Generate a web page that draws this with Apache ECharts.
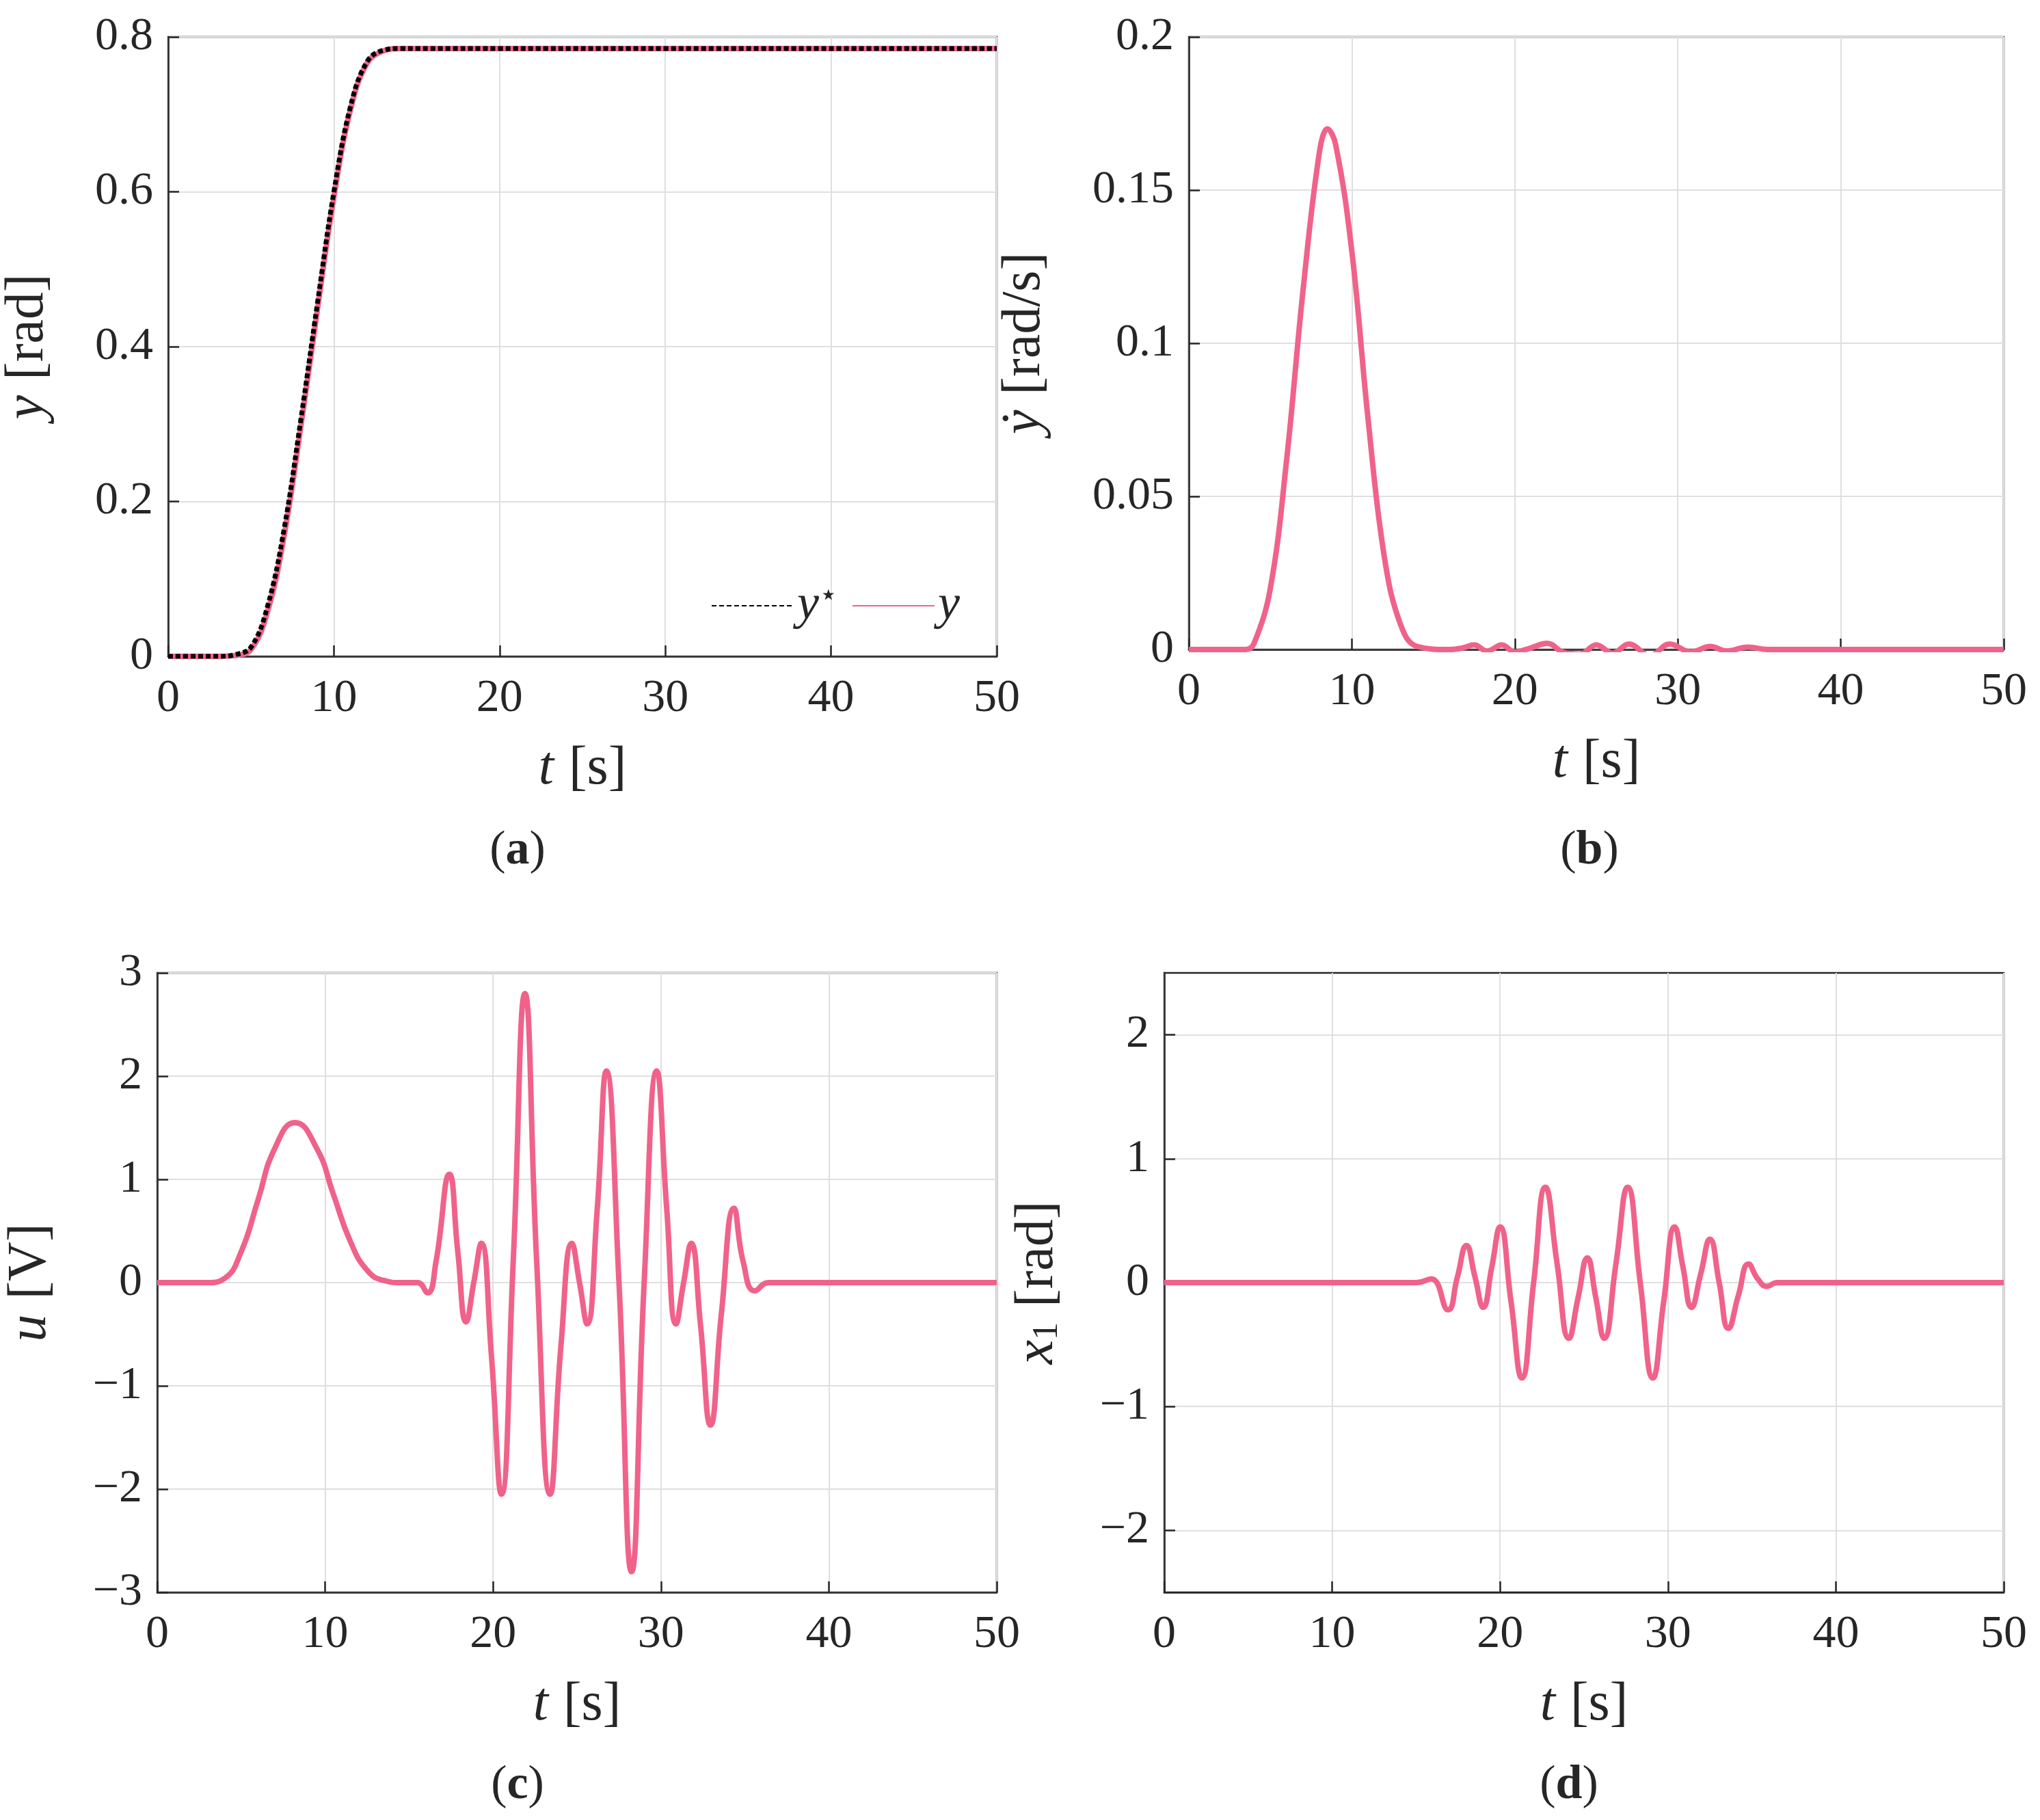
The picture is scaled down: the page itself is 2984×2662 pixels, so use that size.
<!DOCTYPE html>
<html>
<head>
<meta charset="utf-8">
<script src="https://cdn.jsdelivr.net/npm/echarts@6/dist/echarts.min.js"></script>
<style>
  html, body { margin: 0; padding: 0; background: #fff; }
  #main { width: 2984px; height: 2662px; }
</style>
</head>
<body>
<div id="main"></div>
<script>
// (a) position: reference y* and output y
var tPos = [0, 3, 4, 5, 6, 7, 8, 9, 10, 11, 12, 13, 14, 20, 30, 40, 50];
var yRef = [0, 0, 0.002, 0.012, 0.065, 0.165, 0.305, 0.455, 0.6, 0.71, 0.768, 0.783, 0.785, 0.785, 0.785, 0.785, 0.785];
var yOut = [0, 0, 0.001, 0.009, 0.058, 0.156, 0.296, 0.447, 0.593, 0.706, 0.766, 0.782, 0.785, 0.785, 0.785, 0.785, 0.785];

// (b) velocity
var tVel = [0, 3.5, 4, 5, 6, 7, 8, 8.5, 9, 10, 11, 12, 13, 14, 16, 16.8, 17.5, 18.3, 19.2, 20, 20.8, 22, 23, 24, 25, 26, 27, 28.3, 29.5, 30.8, 32, 33, 34.3, 35.5, 50];
var yVel = [0, 0, 0.002, 0.02, 0.062, 0.117, 0.162, 0.17, 0.165, 0.13, 0.075, 0.03, 0.008, 0.001, 0, 0.0005, 0.0015, -0.0005, 0.0015, -0.0008, 0.0002, 0.002, -0.001, -0.0015, 0.0015, -0.0012, 0.0018, -0.002, 0.0018, -0.0008, 0.001, -0.0005, 0.0008, 0, 0];

// (c) input voltage u
var tU = [0, 3, 4, 5, 6, 7, 8.2, 9.5, 10.5, 11.5, 12.5, 13.5, 14.5, 15.5, 16.1, 16.6, 17.4, 17.9, 18.4, 18.85, 19.3, 19.9, 20.5, 21.2, 21.9, 22.6, 23.4, 24.05, 24.7, 25.15, 25.6, 26.2, 26.75, 27.5, 28.25, 29.0, 29.75, 30.35, 30.9, 31.35, 31.8, 32.35, 32.95, 33.6, 34.35, 34.9, 35.6, 36.4, 50];
var uVal = [0, 0, 0.04, 0.3, 0.8, 1.3, 1.55, 1.3, 0.85, 0.4, 0.12, 0.02, 0, 0, -0.1, 0.2, 1.05, 0.3, -0.38, 0, 0.38, -0.7, -2.05, 0.2, 2.8, 0.2, -2.05, -0.6, 0.38, 0, -0.4, 0.7, 2.05, 0, -2.8, 0, 2.05, 0.7, -0.4, 0, 0.38, -0.4, -1.38, -0.3, 0.72, 0.2, -0.08, 0, 0];

// (d) state x1
var tX = [0, 15, 15.9, 16.9, 17.45, 18.0, 18.5, 19.0, 19.5, 20.0, 20.65, 21.3, 22.0, 22.7, 23.4, 24.1, 24.65, 25.2, 25.7, 26.2, 26.9, 27.6, 28.35, 29.1, 29.75, 30.4, 30.9, 31.4, 31.95, 32.5, 33.05, 33.6, 34.2, 34.8, 35.35, 35.9, 36.5, 50];
var xVal = [0, 0, 0.03, -0.22, 0.04, 0.3, 0.05, -0.2, 0.12, 0.45, -0.15, -0.77, 0, 0.77, 0.15, -0.45, -0.12, 0.2, -0.12, -0.45, 0.15, 0.77, 0, -0.77, -0.15, 0.45, 0.12, -0.2, 0.07, 0.35, 0, -0.37, -0.1, 0.15, 0.03, -0.03, 0, 0];

var pink = '#F0628A';
var ink = '#262626';
var serif = 'Liberation Serif';

function pairs(t, v) {
    return t.map(function (x, i) { return [x, v[i]]; });
}

var grids = [
    { left: 230, right: 2984 - 1458, top: 54, bottom: 2662 - 960 },
    { left: 1739, right: 2984 - 2931, top: 54, bottom: 2662 - 950 },
    { left: 230, right: 2984 - 1458, top: 1423, bottom: 2662 - 2329 },
    { left: 1703, right: 2984 - 2931, top: 1423, bottom: 2662 - 2329 }
];
grids.forEach(function (g) {
    g.show = true;
    g.borderColor = ink;
    g.borderWidth = 2.5;
});

var nameRich = {
    it: { fontFamily: serif, fontStyle: 'italic', fontSize: 80, color: ink },
    rm: { fontFamily: serif, fontSize: 80, color: ink, padding: [0, 0, 0, 22] },
    sub: { fontFamily: serif, fontSize: 52, color: ink, verticalAlign: 'bottom' }
};

function xAxisFor(i) {
    return {
        type: 'value', gridIndex: i, min: 0, max: 50, interval: 10,
        name: '{it|t}{rm|[s]}',
        nameLocation: 'middle', nameGap: 125,
        nameTextStyle: { rich: nameRich },
        axisLine: { onZero: false, lineStyle: { color: ink, width: 2.5 } },
        axisTick: { inside: true, length: 16, lineStyle: { color: ink, width: 2.5 } },
        axisLabel: { fontFamily: serif, fontSize: 68, color: ink, margin: 28 },
        splitLine: { lineStyle: { color: '#dfdfdf', width: 2 } }
    };
}

function yAxisFor(i, opts) {
    var ax = {
        type: 'value', gridIndex: i, min: opts.min, max: opts.max, interval: opts.interval,
        name: opts.name,
        nameLocation: 'middle', nameGap: opts.gap, nameRotate: 90,
        nameTextStyle: { rich: nameRich },
        axisLine: { onZero: false, lineStyle: { color: ink, width: 2.5 } },
        axisTick: { inside: true, length: 16, lineStyle: { color: ink, width: 2.5 } },
        axisLabel: {
            fontFamily: serif, fontSize: 68, color: ink, margin: 22,
            formatter: function (v) { return v < 0 ? '\u2212' + Math.abs(v) : String(v); }
        },
        splitLine: { lineStyle: { color: '#dfdfdf', width: 2 } }
    };
    if (opts.custom) {
        ax.axisLabel.customValues = opts.custom;
        ax.axisTick.customValues = opts.custom;
    }
    return ax;
}

function panelLabel(letter, x, y) {
    return {
        text: '{p|(}{b|' + letter + '}{p|)}',
        left: x, top: y, textAlign: 'center',
        textStyle: { rich: {
            p: { fontFamily: serif, fontSize: 70, fontWeight: 'normal', color: ink },
            b: { fontFamily: serif, fontSize: 70, fontWeight: 'bold', color: ink }
        } }
    };
}

var option = {
    backgroundColor: '#fff',
    animation: false,
    title: [
        panelLabel('a', 752, 1205),
        panelLabel('b', 2320, 1205),
        panelLabel('c', 752, 2572),
        panelLabel('d', 2290, 2572)
    ],
    legend: {
        left: 1035, top: 845, itemWidth: 120, itemHeight: 24, itemGap: 20,
        data: ['ref', 'out'],
        itemStyle: { opacity: 0 },
        formatter: function (n) { return n === 'ref' ? '{it|y}{sup|\u22C6}' : '{it|y}'; },
        textStyle: { rich: {
            it: { fontFamily: serif, fontStyle: 'italic', fontSize: 72, color: ink },
            sup: { fontFamily: serif, fontSize: 44, color: ink, verticalAlign: 'top', padding: [0, 0, 26, 0] }
        } }
    },
    grid: grids,
    xAxis: [xAxisFor(0), xAxisFor(1), xAxisFor(2), xAxisFor(3)],
    yAxis: [
        yAxisFor(0, { min: 0, max: 0.8, interval: 0.2, name: '{it|y}{rm|[rad]}', gap: 165 }),
        yAxisFor(1, { min: 0, max: 0.2, interval: 0.05, name: '{it|\u1E8F}{rm|[rad/s]}', gap: 200 }),
        yAxisFor(2, { min: -3, max: 3, interval: 1, name: '{it|u}{rm|[V]}', gap: 145 }),
        yAxisFor(3, { min: -2.5, max: 2.5, interval: 0.5, custom: [-2, -1, 0, 1, 2], name: '{it|x}{sub|1}{rm|[rad]}', gap: 145 })
    ],
    series: [
        { name: 'ref', type: 'line', xAxisIndex: 0, yAxisIndex: 0, data: pairs(tPos, yRef), smooth: 0.4,
          symbol: 'none', lineStyle: { color: '#000', width: 7, type: [7, 4] }, itemStyle: { color: '#000' }, z: 3 },
        { name: 'out', type: 'line', xAxisIndex: 0, yAxisIndex: 0, data: pairs(tPos, yOut), smooth: 0.4,
          symbol: 'none', lineStyle: { color: pink, width: 8 }, itemStyle: { color: pink }, z: 2 },
        { name: 'vel', type: 'line', xAxisIndex: 1, yAxisIndex: 1, data: pairs(tVel, yVel), smooth: 0.4,
          symbol: 'none', lineStyle: { color: pink, width: 8 } },
        { name: 'u', type: 'line', xAxisIndex: 2, yAxisIndex: 2, data: pairs(tU, uVal), smooth: 0.5,
          symbol: 'none', lineStyle: { color: pink, width: 8 } },
        { name: 'x1', type: 'line', xAxisIndex: 3, yAxisIndex: 3, data: pairs(tX, xVal), smooth: 0.5,
          symbol: 'none', lineStyle: { color: pink, width: 8 } }
    ]
};

var myChart = echarts.init(document.getElementById('main'));
myChart.setOption(option);
</script>
</body>
</html>
